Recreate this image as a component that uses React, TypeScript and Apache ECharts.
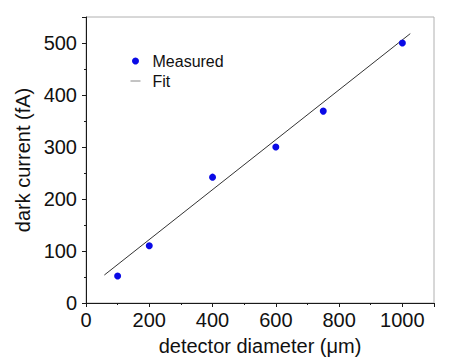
import React, { useEffect, useRef } from "react";
import * as echarts from "echarts";

const diameters = [100, 200, 400, 600, 750, 1000];
const darkCurrent = [52, 110, 242, 300, 369, 500];
const fitLine = [
  [58, 53.8],
  [1025, 518],
];
const xTickStep = 200;
const yTickStep = 100;

export default function App() {
  const ref = useRef<HTMLDivElement>(null);
  useEffect(() => {
    document.body.style.margin = "0";
    const chart = echarts.init(ref.current!, null, { renderer: "svg" });
    const font = "Liberation Sans, Arial, sans-serif";
    const lineColor = "#1a1a1a";
    chart.setOption({
      animation: false,
      grid: {
        left: 86,
        right: 40,
        top: 17,
        bottom: 60,
        show: true,
        borderColor: "#b0b0b0",
        borderWidth: 1,
      },
      legend: {
        orient: "vertical",
        left: 125,
        top: 48,
        itemWidth: 10,
        itemHeight: 7,
        itemGap: 4,
        textStyle: {
          fontFamily: font,
          fontSize: 16,
          color: "#111",
          lineHeight: 16,
          padding: [0, 0, 0, 7],
        },
        data: [
          { name: "Measured", icon: "circle", itemStyle: { color: "#0a0ae6", opacity: 1 } },
          { name: "Fit", lineStyle: { color: "#888", width: 1 }, itemStyle: { opacity: 0 } },
        ],
      },
      xAxis: [
        {
          type: "value",
          min: 0,
          max: 1100,
          interval: xTickStep / 2,
          position: "bottom",
          axisLine: { show: true, onZero: false, lineStyle: { color: lineColor, width: 1 } },
          axisTick: { show: true, inside: false, length: 2, lineStyle: { color: lineColor } },
          axisLabel: { show: false },
          splitLine: { show: false },
        },
        {
          type: "value",
          min: 0,
          max: 1100,
          interval: xTickStep,
          position: "bottom",
          name: "detector diameter (\u03bcm)",
          nameLocation: "middle",
          nameGap: 33,
          nameTextStyle: { fontFamily: font, fontSize: 20, color: "#111" },
          axisLine: { show: false, onZero: false },
          axisTick: { show: true, inside: false, length: 4, lineStyle: { color: lineColor } },
          axisLabel: {
            fontFamily: font,
            fontSize: 20,
            color: "#111",
            margin: 7,
            formatter: (v: number) => (v % xTickStep === 0 ? String(v) : ""),
          },
          splitLine: { show: false },
        },
      ],
      yAxis: [
        {
          type: "value",
          min: 0,
          max: 550,
          interval: yTickStep / 2,
          position: "left",
          axisLine: { show: true, onZero: false, lineStyle: { color: lineColor, width: 1 } },
          axisTick: { show: true, inside: false, length: 2, lineStyle: { color: lineColor } },
          axisLabel: { show: false },
          splitLine: { show: false },
        },
        {
          type: "value",
          min: 0,
          max: 550,
          interval: yTickStep,
          position: "left",
          name: "dark current (fA)",
          nameLocation: "middle",
          nameGap: 51,
          nameTextStyle: { fontFamily: font, fontSize: 20, color: "#111" },
          axisLine: { show: false, onZero: false },
          axisTick: { show: true, inside: false, length: 4, lineStyle: { color: lineColor } },
          axisLabel: {
            fontFamily: font,
            fontSize: 20,
            color: "#111",
            margin: 9,
            formatter: (v: number) => (v % yTickStep === 0 ? String(v) : ""),
          },
          splitLine: { show: false },
        },
      ],
      series: [
        {
          name: "Fit",
          type: "line",
          xAxisIndex: 0,
          yAxisIndex: 0,
          data: fitLine,
          symbol: "none",
          lineStyle: { color: "#333", width: 1 },
          itemStyle: { color: "#333" },
          z: 2,
        },
        {
          name: "Measured",
          type: "scatter",
          xAxisIndex: 0,
          yAxisIndex: 0,
          data: diameters.map((d, i) => [d, darkCurrent[i]]),
          symbol: "circle",
          symbolSize: 7,
          itemStyle: { color: "#0a0ae6", opacity: 1 },
          z: 3,
        },
      ],
    });
    return () => chart.dispose();
  }, []);
  return <div ref={ref} style={{ width: 474, height: 363 }} />;
}
